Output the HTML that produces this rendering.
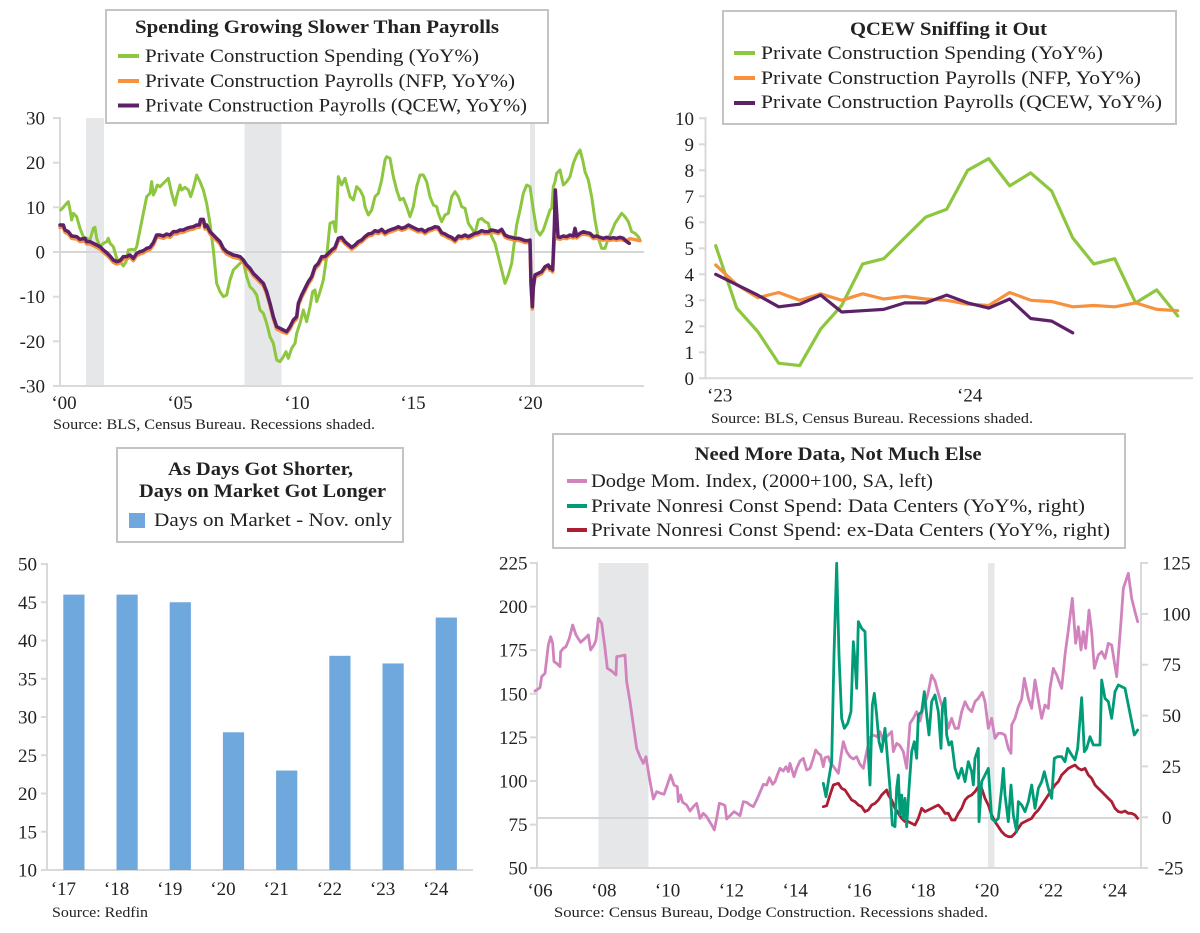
<!DOCTYPE html>
<html><head><meta charset="utf-8"><style>
html,body{margin:0;padding:0;background:#fff;}
svg{display:block;}
text{font-family:"Liberation Serif",serif;fill:#222;}
.ax{font-size:19px;}
.lg{font-size:19px;}
.tt{font-size:19px;font-weight:bold;}
.src{font-size:14.5px;}
</style></head><body>
<svg width="1200" height="933" viewBox="0 0 1200 933" xmlns="http://www.w3.org/2000/svg">
<rect width="1200" height="933" fill="#fff"/>

<!-- ================= TOP LEFT ================= -->
<g>
<rect x="86" y="118" width="18" height="268" fill="#e6e7e9"/>
<rect x="244.5" y="118" width="37" height="268" fill="#e6e7e9"/>
<rect x="530" y="118" width="5" height="268" fill="#e6e7e9"/>
<line x1="60" y1="252" x2="644" y2="252" stroke="#d6d6d6" stroke-width="2"/>
<line x1="60" y1="117" x2="60" y2="387" stroke="#d9d9d9" stroke-width="2"/>
<line x1="59" y1="386" x2="644" y2="386" stroke="#d9d9d9" stroke-width="2"/>
<g stroke="#d9d9d9" stroke-width="2">
<line x1="53" y1="118" x2="60" y2="118"/><line x1="53" y1="162.7" x2="60" y2="162.7"/><line x1="53" y1="207.3" x2="60" y2="207.3"/><line x1="53" y1="252" x2="60" y2="252"/><line x1="53" y1="296.7" x2="60" y2="296.7"/><line x1="53" y1="341.3" x2="60" y2="341.3"/><line x1="53" y1="386" x2="60" y2="386"/>
</g>
<g class="ax" text-anchor="end">
<text x="45" y="124.5">30</text><text x="45" y="169.2">20</text><text x="45" y="213.8">10</text><text x="45" y="258.5">0</text><text x="45" y="303.2">-10</text><text x="45" y="347.8">-20</text><text x="45" y="392.5">-30</text>
</g>
<g class="ax" text-anchor="middle">
<text x="64" y="409">&#8216;00</text><text x="180" y="409">&#8216;05</text><text x="297" y="409">&#8216;10</text><text x="413" y="409">&#8216;15</text><text x="530" y="409">&#8216;20</text>
</g>
<g transform="translate(40,110) scale(0.333333)" fill="none" stroke-linejoin="round" stroke-linecap="round">
<polyline vector-effect="non-scaling-stroke" stroke="#8dc63f" stroke-width="3" points="62,300 70,292 80,280 85,275 90,300 95,330 100,310 110,320 120,355 130,380 140,385 150,390 160,355 165,352 170,385 180,410 190,400 200,395 205,385 210,400 220,410 230,445 240,455 250,468 258,455 265,420 275,418 285,420 290,410 300,360 310,310 320,260 330,250 335,215 340,255 345,245 352,225 360,230 370,220 380,210 385,205 395,250 405,285 410,260 420,225 425,240 435,232 445,240 452,260 460,235 470,195 480,215 490,240 500,280 510,340 520,420 530,520 540,545 550,560 560,555 570,510 580,480 590,470 600,460 610,455 620,500 630,530 640,540 650,555 660,600 670,610 680,640 690,680 700,700 710,750 720,755 730,740 738,725 745,745 755,715 765,700 770,670 780,640 790,600 800,635 810,590 818,545 825,540 830,575 840,545 850,510 860,440 870,340 880,335 887,365 895,200 905,225 915,205 930,260 940,270 950,230 960,240 970,260 975,290 985,315 995,300 1005,260 1015,250 1025,210 1035,150 1040,140 1050,145 1060,200 1070,240 1080,270 1090,265 1100,290 1110,320 1120,290 1130,230 1140,195 1150,195 1160,215 1170,260 1180,285 1190,290 1195,310 1205,335 1215,315 1225,310 1235,260 1245,245 1255,260 1265,290 1275,295 1285,340 1295,355 1305,370 1315,330 1325,325 1335,335 1345,340 1355,380 1365,400 1375,440 1385,480 1395,520 1405,495 1415,460 1420,420 1430,345 1440,300 1450,250 1460,225 1470,230 1480,300 1490,360 1500,375 1510,360 1520,330 1530,300 1535,295 1540,230 1545,215 1550,190 1560,180 1570,225 1580,215 1590,200 1600,160 1610,135 1620,120 1628,150 1635,185 1645,210 1655,260 1665,330 1675,385 1685,415 1695,415 1705,385 1715,365 1725,340 1735,325 1745,310 1755,320 1765,335 1775,365 1785,370 1795,380 1800,390"/>
<polyline vector-effect="non-scaling-stroke" stroke="#f7913d" stroke-width="3.5" points="60,352 70,352 75,367 85,372 95,385 110,387 120,395 135,392 140,402 150,402 160,407 170,412 180,417 190,427 200,435 210,445 220,457 230,462 240,459 250,447 260,447 270,442 280,452 290,437 300,432 310,429 320,422 330,419 340,405 350,382 360,382 370,385 380,379 390,382 400,372 410,372 420,367 430,367 440,362 450,359 460,357 470,352 478,352 482,335 490,335 495,357 500,352 510,372 520,382 530,392 540,402 550,422 560,432 570,437 580,442 590,444 600,447 610,457 620,472 630,482 640,497 650,507 660,517 670,527 680,552 690,587 700,627 710,657 720,662 730,667 740,670 750,657 760,637 770,627 775,587 785,562 795,542 805,522 815,507 825,477 835,467 845,447 855,447 865,437 875,427 885,419 895,392 905,389 915,401 935,418 945,411 955,401 965,396 975,386 985,378 995,376 1005,368 1015,371 1025,364 1035,374 1045,368 1055,364 1065,361 1075,356 1085,361 1095,358 1105,351 1115,356 1125,361 1135,366 1145,364 1155,371 1165,364 1175,361 1185,356 1195,358 1205,374 1215,378 1225,384 1235,388 1245,396 1255,384 1265,386 1275,381 1285,386 1295,381 1305,376 1315,374 1325,368 1335,371 1345,371 1355,366 1365,368 1375,371 1385,364 1395,381 1405,386 1415,388 1425,391 1435,391 1445,394 1455,398 1465,398 1470,396 1473,526 1477,597 1480,536 1485,501 1495,496 1505,491 1515,476 1525,471 1530,481 1535,476 1538,486 1543,386 1554,386 1560,388 1570,384 1580,386 1590,381 1600,384 1605,361 1610,384 1620,376 1630,371 1640,374 1650,376 1660,386 1670,384 1680,388 1690,391 1700,388 1710,391 1720,389 1730,391 1740,388 1750,391 1760,392 1770,386 1780,388 1790,390 1800,392"/>
<polyline vector-effect="non-scaling-stroke" stroke="#5c2166" stroke-width="3.5" points="60,345 70,345 75,360 85,365 95,378 110,380 120,388 135,385 140,395 150,395 160,400 170,405 180,410 190,420 200,428 210,438 220,450 230,455 240,452 250,440 260,440 270,435 280,445 290,430 300,425 310,422 320,415 330,412 340,398 350,375 360,375 370,378 380,372 390,375 400,365 410,365 420,360 430,360 440,355 450,352 460,350 470,345 478,345 482,328 490,328 495,350 500,345 510,365 520,375 530,385 540,395 550,415 560,425 570,430 580,435 590,437 600,440 610,450 620,465 630,475 640,490 650,500 660,510 670,520 680,545 690,580 700,620 710,650 720,655 730,660 740,665 750,650 760,630 770,620 775,580 785,555 795,535 805,515 815,500 825,470 835,460 845,440 855,440 865,430 875,420 885,412 895,385 905,382 915,395 935,412 945,405 955,395 965,390 975,380 985,372 995,370 1005,362 1015,365 1025,358 1035,368 1045,362 1055,358 1065,355 1075,350 1085,355 1095,352 1105,345 1115,350 1125,355 1135,360 1145,358 1155,365 1165,358 1175,355 1185,350 1195,352 1205,368 1215,372 1225,378 1235,382 1245,390 1255,378 1265,380 1275,375 1285,380 1295,375 1305,370 1315,368 1325,362 1335,365 1345,365 1355,360 1365,362 1375,365 1385,358 1395,375 1405,380 1415,382 1425,385 1435,385 1445,388 1455,392 1465,392 1470,390 1473,520 1477,590 1480,530 1485,495 1495,490 1505,485 1515,470 1525,465 1530,475 1535,470 1538,480 1543,350 1546,240 1550,310 1554,380 1560,382 1570,378 1580,380 1590,375 1600,378 1605,355 1610,378 1620,370 1630,365 1640,368 1650,370 1660,380 1670,378 1680,382 1690,385 1700,382 1710,385 1720,383 1730,385 1740,382 1750,385 1760,395 1768,400"/>
</g>
<rect x="106" y="10" width="442" height="113" fill="#fff" stroke="#c4c4c4" stroke-width="2"/>
<text class="tt" x="135" y="33" textLength="364" lengthAdjust="spacingAndGlyphs">Spending Growing Slower Than Payrolls</text>
<line x1="118" y1="56" x2="139" y2="56" stroke="#8dc63f" stroke-width="4"/>
<line x1="118" y1="81" x2="139" y2="81" stroke="#f7913d" stroke-width="4"/>
<line x1="118" y1="105.5" x2="139" y2="105.5" stroke="#5c2166" stroke-width="4"/>
<text class="lg" x="145" y="62" textLength="334" lengthAdjust="spacingAndGlyphs">Private Construction Spending (YoY%)</text>
<text class="lg" x="145" y="87" textLength="370" lengthAdjust="spacingAndGlyphs">Private Construction Payrolls (NFP, YoY%)</text>
<text class="lg" x="145" y="111.5" textLength="382" lengthAdjust="spacingAndGlyphs">Private Construction Payrolls (QCEW, YoY%)</text>
<text class="src" x="53" y="429" textLength="322" lengthAdjust="spacingAndGlyphs">Source: BLS, Census Bureau. Recessions shaded.</text>
</g>

<!-- ================= TOP RIGHT ================= -->
<g>
<line x1="705.5" y1="117" x2="705.5" y2="379" stroke="#d9d9d9" stroke-width="2"/>
<line x1="705" y1="378.3" x2="1193" y2="378.3" stroke="#d9d9d9" stroke-width="2"/>
<g stroke="#d9d9d9" stroke-width="2">
<line x1="699" y1="118.3" x2="706" y2="118.3"/><line x1="699" y1="144.3" x2="706" y2="144.3"/><line x1="699" y1="170.3" x2="706" y2="170.3"/><line x1="699" y1="196.3" x2="706" y2="196.3"/><line x1="699" y1="222.3" x2="706" y2="222.3"/><line x1="699" y1="248.3" x2="706" y2="248.3"/><line x1="699" y1="274.3" x2="706" y2="274.3"/><line x1="699" y1="300.3" x2="706" y2="300.3"/><line x1="699" y1="326.3" x2="706" y2="326.3"/><line x1="699" y1="352.3" x2="706" y2="352.3"/><line x1="699" y1="378.3" x2="706" y2="378.3"/>
</g>
<g class="ax" text-anchor="end">
<text x="694" y="124.8">10</text><text x="694" y="150.8">9</text><text x="694" y="176.8">8</text><text x="694" y="202.8">7</text><text x="694" y="228.8">6</text><text x="694" y="254.8">5</text><text x="694" y="280.8">4</text><text x="694" y="306.8">3</text><text x="694" y="332.8">2</text><text x="694" y="358.8">1</text><text x="694" y="384.8">0</text>
</g>
<text class="ax" x="707" y="401.5">&#8216;23</text>
<text class="ax" x="957" y="401.5">&#8216;24</text>
<g transform="translate(715.7,378.3) scale(21,-26)" fill="none" stroke-linejoin="round" stroke-linecap="round">
<polyline vector-effect="non-scaling-stroke" stroke="#8dc63f" stroke-width="3.2" points="0,5.1 1,2.7 2,1.8 3,0.58 4,0.49 5,1.9 6,2.8 7,4.4 8,4.6 9,5.4 10,6.2 11,6.5 12,8.0 13,8.45 14,7.4 15,7.9 16,7.2 17,5.4 18,4.4 19,4.6 20,2.9 21,3.4 22,2.4"/>
<polyline vector-effect="non-scaling-stroke" stroke="#f7913d" stroke-width="3.2" points="0,4.36 1,3.6 2,3.1 3,3.3 4,3.0 5,3.25 6,3.0 7,3.25 8,3.05 9,3.15 10,3.05 11,3.0 12,2.85 13,2.8 14,3.3 15,3.0 16,2.95 17,2.75 18,2.8 19,2.75 20,2.9 21,2.65 22,2.6"/>
<polyline vector-effect="non-scaling-stroke" stroke="#5c2166" stroke-width="3.2" points="0,4.0 1,3.6 2,3.2 3,2.75 4,2.85 5,3.2 6,2.55 7,2.6 8,2.65 9,2.9 10,2.9 11,3.2 12,2.9 13,2.7 14,3.05 15,2.3 16,2.2 17,1.75"/>
</g>
<rect x="723" y="11" width="453" height="113" fill="#fff" stroke="#c4c4c4" stroke-width="2"/>
<text class="tt" x="850" y="35" textLength="197" lengthAdjust="spacingAndGlyphs">QCEW Sniffing it Out</text>
<line x1="734" y1="53" x2="755" y2="53" stroke="#8dc63f" stroke-width="4"/>
<line x1="734" y1="78" x2="755" y2="78" stroke="#f7913d" stroke-width="4"/>
<line x1="734" y1="103" x2="755" y2="103" stroke="#5c2166" stroke-width="4"/>
<text class="lg" x="761" y="59" textLength="342" lengthAdjust="spacingAndGlyphs">Private Construction Spending (YoY%)</text>
<text class="lg" x="761" y="84" textLength="380" lengthAdjust="spacingAndGlyphs">Private Construction Payrolls (NFP, YoY%)</text>
<text class="lg" x="761" y="108" textLength="401" lengthAdjust="spacingAndGlyphs">Private Construction Payrolls (QCEW, YoY%)</text>
<text class="src" x="711" y="423" textLength="322" lengthAdjust="spacingAndGlyphs">Source: BLS, Census Bureau. Recessions shaded.</text>
</g>

<!-- ================= BOTTOM LEFT ================= -->
<g>
<line x1="47" y1="563" x2="47" y2="871" stroke="#d9d9d9" stroke-width="2"/>
<line x1="46" y1="870" x2="473" y2="870" stroke="#d9d9d9" stroke-width="2"/>
<g stroke="#d9d9d9" stroke-width="2">
<line x1="41" y1="564" x2="47" y2="564"/><line x1="41" y1="602.25" x2="47" y2="602.25"/><line x1="41" y1="640.5" x2="47" y2="640.5"/><line x1="41" y1="678.75" x2="47" y2="678.75"/><line x1="41" y1="717" x2="47" y2="717"/><line x1="41" y1="755.25" x2="47" y2="755.25"/><line x1="41" y1="793.5" x2="47" y2="793.5"/><line x1="41" y1="831.75" x2="47" y2="831.75"/><line x1="41" y1="870" x2="47" y2="870"/>
</g>
<g class="ax" text-anchor="end">
<text x="37" y="570.5">50</text><text x="37" y="608.75">45</text><text x="37" y="647">40</text><text x="37" y="685.25">35</text><text x="37" y="723.5">30</text><text x="37" y="761.75">25</text><text x="37" y="800">20</text><text x="37" y="838.25">15</text><text x="37" y="876.5">10</text>
</g>
<g fill="#6fa8dc">
<rect x="63.3" y="594.6" width="21.2" height="275.4"/>
<rect x="116.5" y="594.6" width="21.2" height="275.4"/>
<rect x="169.7" y="602.25" width="21.2" height="267.75"/>
<rect x="222.9" y="732.3" width="21.2" height="137.7"/>
<rect x="276.1" y="770.55" width="21.2" height="99.45"/>
<rect x="329.3" y="655.8" width="21.2" height="214.2"/>
<rect x="382.5" y="663.45" width="21.2" height="206.55"/>
<rect x="435.7" y="617.55" width="21.2" height="252.45"/>
</g>
<g class="ax">
<text x="50.7" y="895">&#8216;17</text><text x="103.9" y="895">&#8216;18</text><text x="157.1" y="895">&#8216;19</text><text x="210.3" y="895">&#8216;20</text><text x="263.5" y="895">&#8216;21</text><text x="316.7" y="895">&#8216;22</text><text x="369.9" y="895">&#8216;23</text><text x="423.1" y="895">&#8216;24</text>
</g>
<rect x="117" y="448" width="286" height="94" fill="#fff" stroke="#c4c4c4" stroke-width="2"/>
<text class="tt" x="168" y="475" textLength="185" lengthAdjust="spacingAndGlyphs">As Days Got Shorter,</text>
<text class="tt" x="139" y="497" textLength="247" lengthAdjust="spacingAndGlyphs">Days on Market Got Longer</text>
<rect x="129" y="513" width="16" height="15" fill="#6fa8dc"/>
<text class="lg" x="154" y="526" textLength="238" lengthAdjust="spacingAndGlyphs">Days on Market - Nov. only</text>
<text class="src" x="52" y="917" textLength="96" lengthAdjust="spacingAndGlyphs">Source: Redfin</text>
</g>

<!-- ================= BOTTOM RIGHT ================= -->
<g>
<rect x="598.5" y="563" width="50" height="305" fill="#e6e7e9"/>
<rect x="988" y="563" width="6.5" height="305" fill="#e6e7e9"/>
<line x1="537" y1="818" x2="1141" y2="818" stroke="#d6d6d6" stroke-width="2"/>
<line x1="537" y1="562" x2="537" y2="869" stroke="#d9d9d9" stroke-width="2"/>
<line x1="1141" y1="562" x2="1141" y2="869" stroke="#d9d9d9" stroke-width="2"/>
<line x1="536" y1="868" x2="1142" y2="868" stroke="#d9d9d9" stroke-width="2"/>
<g stroke="#d9d9d9" stroke-width="2">
<line x1="530" y1="563" x2="537" y2="563"/><line x1="530" y1="606.6" x2="537" y2="606.6"/><line x1="530" y1="650.2" x2="537" y2="650.2"/><line x1="530" y1="693.8" x2="537" y2="693.8"/><line x1="530" y1="737.4" x2="537" y2="737.4"/><line x1="530" y1="781" x2="537" y2="781"/><line x1="530" y1="824.6" x2="537" y2="824.6"/><line x1="530" y1="868" x2="537" y2="868"/>
<line x1="1141" y1="563" x2="1148" y2="563"/><line x1="1141" y1="613.9" x2="1148" y2="613.9"/><line x1="1141" y1="664.7" x2="1148" y2="664.7"/><line x1="1141" y1="715.6" x2="1148" y2="715.6"/><line x1="1141" y1="766.4" x2="1148" y2="766.4"/><line x1="1141" y1="817.3" x2="1148" y2="817.3"/><line x1="1141" y1="868" x2="1148" y2="868"/>
</g>
<g class="ax" text-anchor="end">
<text x="527.5" y="569.5">225</text><text x="527.5" y="613.1">200</text><text x="527.5" y="656.7">175</text><text x="527.5" y="700.3">150</text><text x="527.5" y="743.9">125</text><text x="527.5" y="787.5">100</text><text x="527.5" y="831.1">75</text><text x="527.5" y="874.5">50</text>
</g>
<g class="ax">
<text x="1162" y="569.5">125</text><text x="1162" y="620.4">100</text><text x="1162" y="671.2">75</text><text x="1162" y="722.1">50</text><text x="1162" y="772.9">25</text><text x="1162" y="823.8">0</text><text x="1158" y="874.5">-25</text>
</g>
<g class="ax" text-anchor="middle">
<text x="540" y="896.7">&#8216;06</text><text x="603.8" y="896.7">&#8216;08</text><text x="667.6" y="896.7">&#8216;10</text><text x="731.4" y="896.7">&#8216;12</text><text x="795.2" y="896.7">&#8216;14</text><text x="859" y="896.7">&#8216;16</text><text x="922.8" y="896.7">&#8216;18</text><text x="986.6" y="896.7">&#8216;20</text><text x="1050.4" y="896.7">&#8216;22</text><text x="1114.2" y="896.7">&#8216;24</text>
</g>
<g transform="translate(530,555) scale(0.333333)" fill="none" stroke-linejoin="round" stroke-linecap="round">
<polyline vector-effect="non-scaling-stroke" stroke="#d183bd" stroke-width="2.8" points="15,408 30,398 35,365 45,355 55,270 62,245 68,265 72,320 80,325 90,335 92,290 100,280 108,275 118,250 128,210 138,240 152,262 165,250 175,240 182,285 192,270 198,255 205,190 215,205 225,280 232,340 245,348 258,360 260,305 272,303 285,300 290,380 300,440 310,510 320,580 330,605 340,625 348,605 355,650 362,690 370,732 380,710 392,715 402,718 410,695 422,660 432,690 442,695 445,740 452,720 458,742 470,750 480,768 490,755 500,745 510,790 520,775 530,785 545,810 553,825 560,790 568,745 578,748 585,752 590,792 602,780 612,770 620,775 630,782 640,740 650,742 660,750 670,755 680,735 690,712 700,688 710,690 718,668 728,688 735,680 742,660 750,640 760,648 768,635 775,650 780,625 785,642 792,665 800,640 810,618 820,610 830,645 840,640 850,610 857,585 865,595 872,600 880,635 885,608 895,605 900,620 925,655 935,590 940,560 950,590 960,605 970,612 980,605 990,628 1000,640 1010,590 1020,548 1030,540 1040,545 1050,530 1060,560 1070,545 1080,535 1085,530 1090,590 1100,565 1110,572 1120,590 1130,640 1140,505 1150,490 1160,470 1170,498 1180,455 1190,430 1195,410 1205,360 1215,378 1225,415 1235,450 1245,470 1255,520 1265,490 1275,520 1285,520 1295,470 1305,440 1315,460 1325,470 1335,440 1345,430 1357,412 1365,440 1375,520 1385,490 1395,550 1405,535 1415,535 1425,540 1435,580 1443,595 1445,510 1455,490 1465,455 1475,432 1483,370 1495,430 1505,460 1515,375 1525,435 1535,490 1545,450 1555,460 1560,400 1570,340 1580,360 1595,400 1605,300 1615,225 1627,130 1637,265 1645,215 1653,285 1660,230 1667,280 1677,165 1685,230 1693,340 1705,300 1715,290 1725,310 1735,265 1745,270 1760,365 1773,200 1780,100 1795,55 1805,130 1815,170 1823,200"/>
<polyline vector-effect="non-scaling-stroke" stroke="#ab1e33" stroke-width="2.8" points="880,755 890,752 900,720 910,690 925,685 935,700 945,705 955,720 965,735 975,740 985,750 995,755 1005,770 1015,765 1025,750 1035,745 1045,735 1055,720 1065,710 1070,705 1075,720 1085,735 1095,760 1105,775 1115,790 1125,800 1135,800 1145,805 1155,810 1165,790 1175,760 1185,770 1195,765 1205,760 1215,755 1225,750 1235,760 1245,775 1255,775 1265,795 1275,795 1285,775 1295,760 1305,735 1315,725 1325,720 1335,710 1345,695 1355,700 1365,730 1375,750 1385,780 1395,800 1405,815 1415,830 1425,840 1435,845 1445,845 1455,835 1465,820 1475,805 1485,800 1495,795 1505,790 1515,775 1525,765 1535,750 1545,735 1555,720 1565,705 1575,690 1585,680 1595,660 1605,650 1615,640 1625,635 1635,630 1645,640 1655,645 1665,640 1675,660 1685,670 1695,690 1705,700 1715,710 1725,720 1735,730 1745,740 1755,760 1765,770 1775,772 1785,768 1795,775 1805,775 1815,780 1823,790"/>
<polyline vector-effect="non-scaling-stroke" stroke="#009b77" stroke-width="2.8" points="880,685 888,725 895,680 905,620 912,300 920,25 927,300 935,490 943,520 953,505 963,470 970,260 975,320 980,400 985,200 995,220 1005,230 1010,400 1015,600 1020,690 1027,450 1033,415 1040,480 1047,560 1055,590 1065,520 1070,580 1080,700 1087,810 1095,815 1100,700 1105,660 1110,780 1115,720 1120,790 1125,730 1130,815 1137,700 1145,590 1153,560 1160,610 1165,480 1175,470 1183,410 1190,480 1197,540 1205,440 1215,420 1225,470 1233,580 1237,460 1245,430 1250,540 1257,570 1265,560 1275,640 1285,670 1295,640 1305,680 1315,620 1325,650 1330,690 1335,610 1345,580 1347,800 1355,680 1365,660 1375,640 1385,790 1395,800 1405,790 1415,700 1420,640 1425,720 1435,800 1443,690 1450,780 1460,830 1465,740 1475,750 1485,770 1495,740 1505,690 1515,760 1525,700 1535,680 1543,650 1555,700 1565,730 1573,610 1583,605 1595,605 1605,620 1613,580 1625,600 1635,615 1643,580 1655,428 1663,590 1670,580 1680,545 1690,570 1700,570 1710,570 1715,375 1725,430 1735,440 1745,490 1755,410 1765,390 1775,395 1785,400 1795,450 1805,500 1813,540 1823,525"/>
</g>
<rect x="553" y="434" width="572" height="114" fill="#fff" stroke="#c4c4c4" stroke-width="2"/>
<text class="tt" x="694.6" y="460" textLength="287" lengthAdjust="spacingAndGlyphs">Need More Data, Not Much Else</text>
<line x1="567" y1="481" x2="587" y2="481" stroke="#d183bd" stroke-width="4"/>
<line x1="567" y1="506" x2="587" y2="506" stroke="#009b77" stroke-width="4"/>
<line x1="567" y1="530" x2="587" y2="530" stroke="#ab1e33" stroke-width="4"/>
<text class="lg" x="591" y="487" textLength="342" lengthAdjust="spacingAndGlyphs">Dodge Mom. Index, (2000+100, SA, left)</text>
<text class="lg" x="591" y="512" textLength="494" lengthAdjust="spacingAndGlyphs">Private Nonresi Const Spend: Data Centers (YoY%, right)</text>
<text class="lg" x="591" y="536" textLength="519" lengthAdjust="spacingAndGlyphs">Private Nonresi Const Spend: ex-Data Centers (YoY%, right)</text>
<text class="src" x="554" y="917" textLength="434" lengthAdjust="spacingAndGlyphs">Source: Census Bureau, Dodge Construction. Recessions shaded.</text>
</g>
</svg>
</body></html>
